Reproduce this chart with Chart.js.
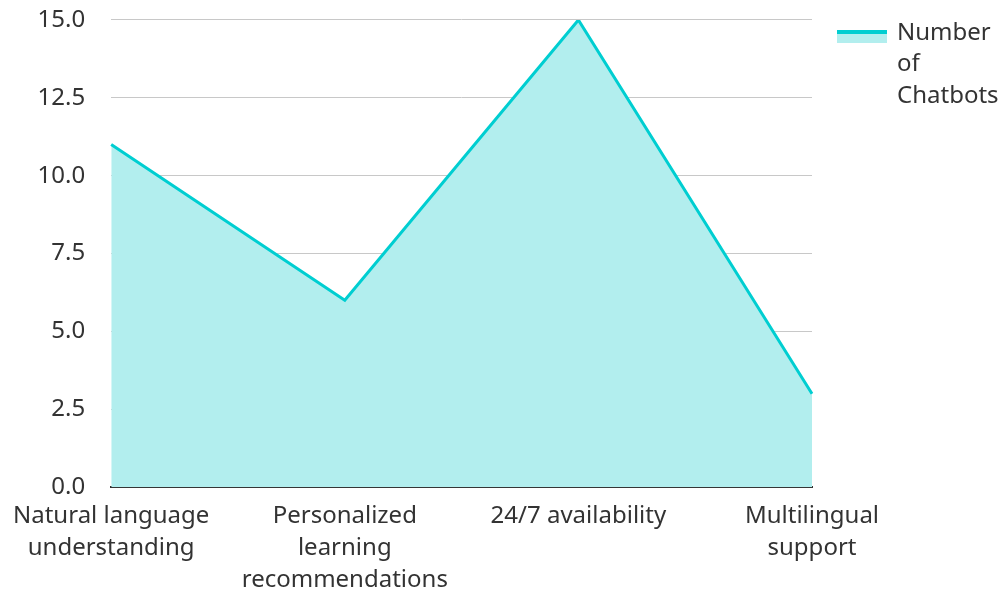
<!DOCTYPE html>
<html>
<head>
<meta charset="utf-8">
<script src="https://cdn.jsdelivr.net/npm/chart.js@4/dist/chart.umd.min.js"></script>
<style>
html,body{margin:0;padding:0;background:#fff;}
#wrap{width:1004px;height:592px;position:relative;}
</style>
</head>
<body>
<div id="wrap"><canvas id="c"></canvas></div>
<script>
const categories = [["Natural language","understanding"],["Personalized","learning","recommendations"],"24/7 availability",["Multilingual","support"]];
const seriesName = "Number of Chatbots";
const seriesLines = ["Number","of","Chatbots"];
const values = [11, 6, 15, 3];
const yTicks = [0, 2.5, 5, 7.5, 10, 12.5, 15];

const lineColor = "#00CED1";
const fillColor = "#B2EEEE";

Chart.defaults.font.family = "'Noto Sans', sans-serif";
Chart.defaults.font.size = 24;
Chart.defaults.color = "#333";

// custom legend drawn with the dataset's styles
const legendPlugin = {
  id: 'sideLegend',
  afterDraw(chart) {
    const ctx = chart.ctx;
    const ds = chart.data.datasets[0];
    const x0 = chart.chartArea.right + 25;
    ctx.save();
    ctx.fillStyle = ds.backgroundColor;
    ctx.fillRect(x0, 30, 50, 13);
    ctx.fillStyle = ds.borderColor;
    ctx.fillRect(x0, 30, 50, 4);
    ctx.fillStyle = '#333';
    ctx.font = "24px 'Noto Sans', sans-serif";
    ctx.textAlign = 'left';
    ctx.textBaseline = 'alphabetic';
    seriesLines.forEach((t, i) => ctx.fillText(t, x0 + 60, 39.5 + 31.5 * i));
    ctx.restore();
  }
};

new Chart(document.getElementById('c'), {
  type: 'line',
  data: {
    labels: categories,
    datasets: [{
      label: seriesName,
      data: values,
      borderColor: lineColor,
      backgroundColor: fillColor,
      borderWidth: 3,
      fill: 'origin',
      pointRadius: 0,
      tension: 0
    }]
  },
  plugins: [legendPlugin],
  options: {
    responsive: true,
    maintainAspectRatio: false,
    animation: false,
    layout: { padding: { left: 10, top: 0, right: 192, bottom: -17 } },
    plugins: {
      legend: { display: false },
      tooltip: { enabled: false }
    },
    scales: {
      x: {
        offset: false,
        grid: { display: false, drawTicks: false },
        border: { display: true, color: '#333', width: 2 },
        ticks: { padding: 13, maxRotation: 0, font: { size: 24, lineHeight: 1.33 } }
      },
      y: {
        min: 0, max: 15,
        afterBuildTicks: (axis) => { axis.ticks = yTicks.map(v => ({ value: v })); },
        grid: { color: '#c8c8c8', lineWidth: 1, drawTicks: true, tickLength: 22, tickColor: 'rgba(0,0,0,0)' },
        border: { display: false },
        ticks: { padding: 4, callback: (v) => Number(v).toFixed(1), font: { size: 24, lineHeight: 1.33 } }
      }
    }
  }
});
</script>
</body>
</html>
